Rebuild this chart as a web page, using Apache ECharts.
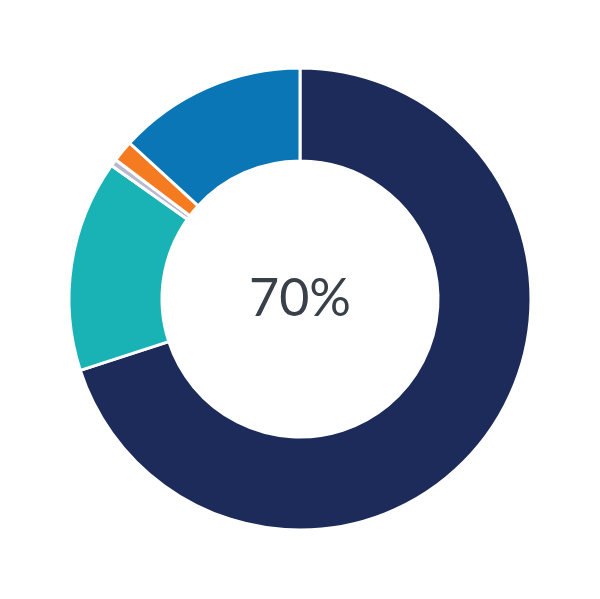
<!DOCTYPE html>
<html>
<head>
<meta charset="utf-8">
<script src="https://cdn.jsdelivr.net/npm/echarts@6/dist/echarts.min.js"></script>
<style>html,body{margin:0;padding:0;background:#fff;}#c{width:600px;height:599px;}</style>
</head>
<body>
<div id="c"></div>
<script>
const categories = ['A', 'B', 'C', 'D', 'E'];
const values = [70, 14.8, 0.5, 1.5, 13.2];
const colors = ['#1d2b5b', '#1ab3b5', '#b8bbd0', '#f47b20', '#0a76b5'];
const centerLabel = '70%';

const chart = echarts.init(document.getElementById('c'));
chart.setOption({
  animation: false,
  graphic: [{
    type: 'text',
    left: 'center',
    top: 'middle',
    style: { text: centerLabel, fontFamily: 'Lato', fontSize: 52, fill: '#3a404a' }
  }],
  series: [{
    type: 'pie',
    center: [300, 299],
    radius: [138, 231],
    startAngle: 90,
    clockwise: true,
    label: { show: false },
    labelLine: { show: false },
    itemStyle: { borderColor: '#fff', borderWidth: 3 },
    emphasis: { disabled: true },
    data: categories.map((c, i) => ({ name: c, value: values[i], itemStyle: { color: colors[i] } }))
  }]
});
</script>
</body>
</html>
